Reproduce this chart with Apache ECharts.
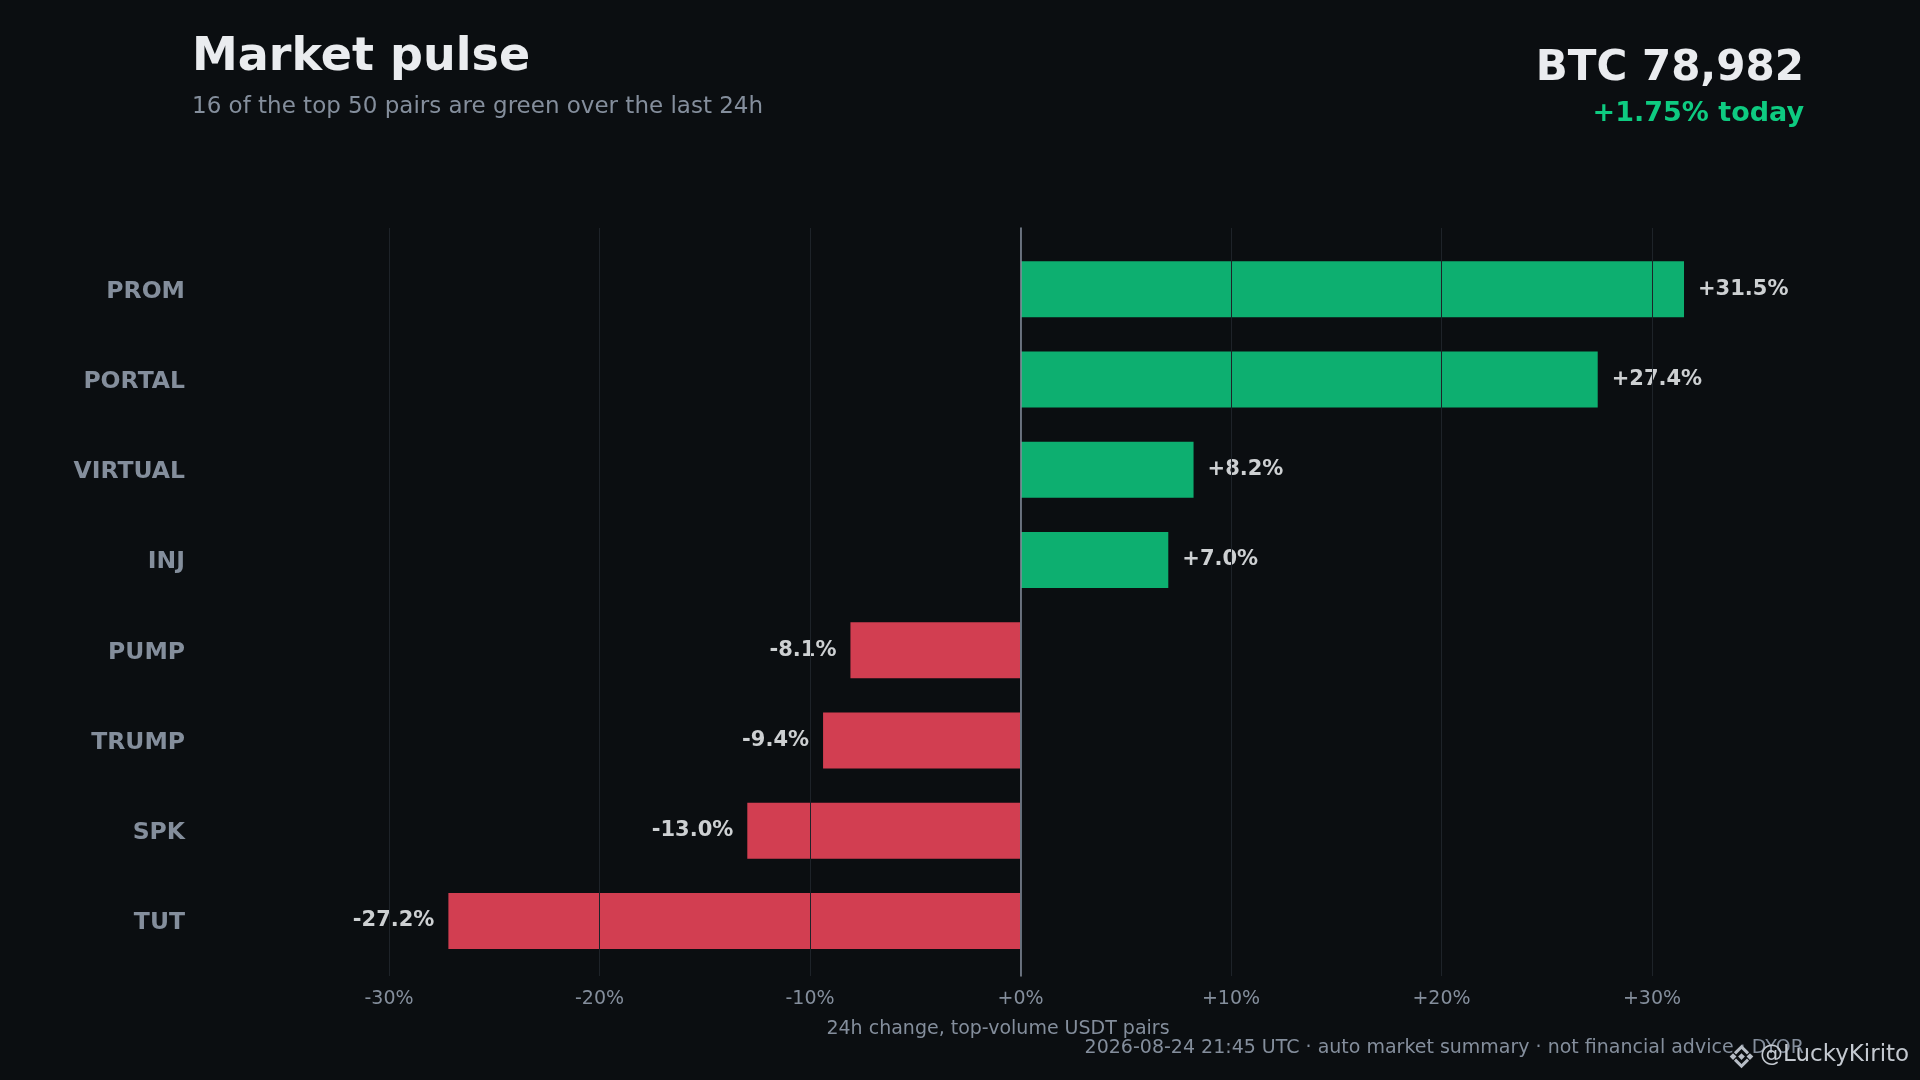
<!DOCTYPE html>
<html>
<head>
<meta charset="utf-8">
<script src="https://cdn.jsdelivr.net/npm/echarts@6/dist/echarts.min.js"></script>
<style>
html,body{margin:0;padding:0;background:#0b0e11;}
#c{width:1920px;height:1080px;}
</style>
</head>
<body>
<div id="c"></div>
<script>
const categories = ['PROM','PORTAL','VIRTUAL','INJ','PUMP','TRUMP','SPK','TUT'];
const changes = [31.5, 27.4, 8.2, 7.0, -8.1, -9.4, -13.0, -27.2];
const tickValues = [-30,-20,-10,0,10,20,30];
const titleText = 'Market pulse';
const subtitleText = '16 of the top 50 pairs are green over the last 24h';
const btcText = 'BTC 78,982';
const btcChange = '+1.75% today';
const axisTitle = '24h change, top-volume USDT pairs';
const footerText = '2026-08-24 21:45 UTC · auto market summary · not financial advice · DYOR';
const watermark = '@LuckyKirito';

const FONT = '"DejaVu Sans", sans-serif';
const GREEN = '#0ECB81', RED = '#F6465D', GRAY = '#848e9c', WHITE = '#eaecef';

const fmt = v => (v >= 0 ? '+' : '') + v.toFixed(1) + '%';
const tickFmt = v => (v >= 0 ? '+' : '') + v + '%';

const barData = changes.map(v => ({
  value: v,
  itemStyle: { color: v >= 0 ? GREEN : RED, opacity: 0.85 },
  label: { position: v >= 0 ? 'right' : 'left' }
}));

// Binance-style logo shapes (unit box 0..32)
const logoShapes = [
  [[16,12],[20,16],[16,20],[12,16]],
  [[6,12],[10,16],[6,20],[2,16]],
  [[26,12],[30,16],[26,20],[22,16]],
  [[16,2],[25,11],[22.5,13.5],[16,7],[9.5,13.5],[7,11]],
  [[16,30],[25,21],[22.5,18.5],[16,25],[9.5,18.5],[7,21]]
];

const chart = echarts.init(document.getElementById('c'), null, { renderer: 'canvas' });
chart.setOption({
  backgroundColor: '#0b0e11',
  animation: false,
  grid: [
    { left: 192, right: 116, top: 244, bottom: 114 },
    { left: 389, right: 268, top: 228, bottom: 104 }
  ],
  xAxis: [
    { type: 'value', gridIndex: 0, min: -39.38, max: 37.2,
      axisLine: { show: false }, axisTick: { show: false },
      axisLabel: { show: false }, splitLine: { show: false },
      name: axisTitle, nameLocation: 'middle', nameGap: 54,
      nameTextStyle: { color: GRAY, fontSize: 19, fontFamily: FONT } },
    { type: 'value', gridIndex: 1, min: tickValues[0], max: tickValues[tickValues.length - 1], interval: 10, z: 5,
      axisLine: { show: false }, axisTick: { show: false },
      axisLabel: { formatter: tickFmt, color: GRAY, fontSize: 19, fontFamily: FONT, margin: 14 },
      splitLine: { show: true, lineStyle: { color: '#1e2329', width: 1 } } }
  ],
  yAxis: [
    { type: 'category', gridIndex: 0, data: categories, inverse: true,
      axisLine: { show: false }, axisTick: { show: false }, splitLine: { show: false },
      axisLabel: { margin: 7, formatter: v => '{c|' + v + '}',
        rich: { c: { color: GRAY, fontSize: 23.5, fontWeight: 'bold', fontFamily: FONT, padding: [5, 0, 0, 0] } } } },
    { type: 'value', gridIndex: 1, min: 0, max: 1, z: 6,
      axisLine: { show: true, onZero: true, lineStyle: { color: GRAY, width: 1.5 } },
      axisTick: { show: false }, axisLabel: { show: false }, splitLine: { show: false } }
  ],
  series: [
    { type: 'bar', xAxisIndex: 0, yAxisIndex: 0, data: barData, barWidth: 56, z: 2,
      label: { show: true, formatter: p => fmt(p.value), color: '#f0f2f5', fontSize: 21,
        fontWeight: 'bold', fontFamily: FONT, distance: 14 } }
  ],
  graphic: [
    { type: 'text', left: 192, top: 35, style: { text: titleText, fill: WHITE, font: 'bold 46px ' + FONT } },
    { type: 'text', left: 192, top: 96, style: { text: subtitleText, fill: GRAY, font: '23px ' + FONT } },
    { type: 'text', right: 116, top: 48, style: { text: btcText, fill: WHITE, font: 'bold 42px ' + FONT } },
    { type: 'text', right: 116, top: 100, style: { text: btcChange, fill: GREEN, font: 'bold 27px ' + FONT } },
    { type: 'text', right: 116, top: 1039, style: { text: footerText, fill: GRAY, font: '19px ' + FONT } },
    { type: 'group', x: 1728, y: 1043, scaleX: 27 / 32, scaleY: 27 / 32,
      children: logoShapes.map(pts => ({ type: 'polygon', shape: { points: pts }, style: { fill: '#b7bdc6' } })) },
    { type: 'text', left: 1760, top: 1044, style: { text: watermark, fill: '#c4c9d0', font: '23px ' + FONT } }
  ]
});
</script>
</body>
</html>
